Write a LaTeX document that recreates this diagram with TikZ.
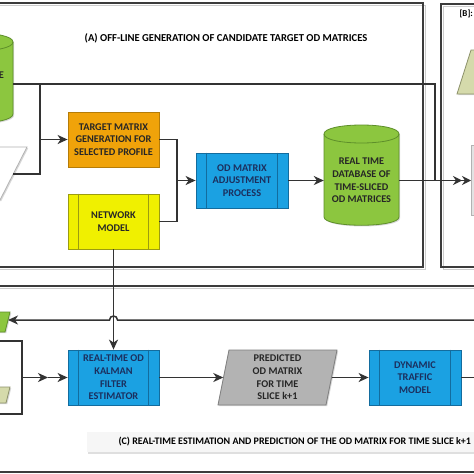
\documentclass[tikz,border=0pt]{standalone}
\usepackage{fontspec}
\setmainfont{Carlito}
\usetikzlibrary{arrows.meta,shadows}
\definecolor{lineC}{HTML}{333333}
\definecolor{frameC}{HTML}{3C3C3C}
\definecolor{orangeF}{HTML}{F0A30A}
\definecolor{orangeD}{HTML}{B57C08}
\definecolor{yellowF}{HTML}{F0F000}
\definecolor{yellowD}{HTML}{9C9C10}
\definecolor{blueF}{HTML}{1BA1E2}
\definecolor{blueD}{HTML}{136C9E}
\definecolor{navyT}{HTML}{1B2F5E}
\definecolor{greenF}{HTML}{8CC63F}
\definecolor{greenD}{HTML}{5E8F2A}
\definecolor{greyF}{HTML}{B3B3B3}
\definecolor{greyD}{HTML}{7F7F7F}
\definecolor{oliveF}{HTML}{D5DAAB}
\definecolor{oliveD}{HTML}{8C916A}
\newcommand\proclines[2]{\draw[#2,line width=0.8pt] ([xshift=11pt]#1.north west) -- ([xshift=11pt]#1.south west) ([xshift=-11pt]#1.north east) -- ([xshift=-11pt]#1.south east);}
\begin{document}
\begin{tikzpicture}[x=1pt,y=-1pt,
  conn/.style={draw=lineC, line width=1.5pt},
  arr/.style={conn, -{Stealth[length=10pt,width=9pt,inset=3pt]}},
  darr/.style={conn, -{Stealth[length=9pt,width=9pt,inset=3pt]Stealth[length=9pt,width=9pt,inset=3pt]}},
  frame/.style={draw=frameC, line width=1.9pt},
  fshadow/.style={draw=gray!40, line width=1.5pt},
  txt/.style={font=\bfseries\fontsize{10.3}{12.6}\selectfont, align=center},
  box/.style={txt, draw, line width=0.8pt, minimum width=91pt, minimum height=55pt, inner sep=1pt,
    drop shadow={shadow xshift=1.2pt, shadow yshift=-1.2pt, opacity=0.3}},
  shp/.style={line width=0.8pt, drop shadow={shadow xshift=1.2pt, shadow yshift=-1.2pt, opacity=0.3}},
  ]
\useasboundingbox (0,0) rectangle (474,474);
\fill[white] (0,0) rectangle (474,474);

% frames
\draw[fshadow] (-10,5.5) rectangle (425.5,269.5);
\draw[frame] (-10,3) rectangle (423,267);
\draw[fshadow] (443.5,6.5) rectangle (490,269.5);
\draw[frame] (441,4) rectangle (490,267);
\draw[fshadow] (-10,288.5) rectangle (490,474.5);
\draw[frame] (-10,286) rectangle (490,472);

% titles
\node[txt, font=\bfseries\fontsize{10.6}{12}\selectfont] (ta) at (226,38) {(A) OFF-LINE GENERATION OF CANDIDATE TARGET OD MATRICES};
\node[txt, anchor=west, font=\bfseries\fontsize{9}{10}\selectfont] (tb) at (456,14) {[B]:};
\fill[gray!7] (87,432) rectangle (490,452);
\draw[gray!25, line width=1.5pt] (88,453) -- (490,453);
\node[txt, anchor=west, font=\bfseries\fontsize{10}{12}\selectfont] (tc) at (115,441.5) {(C) REAL-TIME ESTIMATION AND PREDICTION OF THE OD MATRIX FOR TIME SLICE k+1};

% left cylinder (partly outside)
\filldraw[fill=greenF, draw=greenD, shp] (-62,42) -- (-62,114) .. controls (-62,126) and (13,126) .. (13,114) -- (13,42) .. controls (13,30) and (-62,30) .. (-62,42) -- cycle;
\draw[greenD, line width=0.8pt] (-62,42) .. controls (-62,54) and (13,54) .. (13,42);
\node[txt, anchor=east, text=black!85] (hct) at (7.5,75) {E};
\coordinate (hc) at (13,84);

% white parallelogram at left
\filldraw[fill=white, draw=gray!60, shp] (27,147) -- (0,200) -- (-80,200) -- (-53,147) -- cycle;
\coordinate (wp) at (13,174);

% boxes panel A
\node[box, fill=orangeF, draw=orangeD, text=black!85] (tgt) at (113.5,139.5) {TARGET MATRIX\\GENERATION FOR\\SELECTED PROFILE};
\node[box, fill=yellowF, draw=yellowD, text=black!85] (net) at (113.5,221.5) {NETWORK\\MODEL};
\proclines{net}{yellowD}
\node[box, fill=blueF, draw=blueD, text=navyT, minimum width=92pt] (odp) at (242,180.5) {OD MATRIX\\ADJUSTMENT\\PROCESS};
\proclines{odp}{blueD}

% real time db cylinder
\filldraw[fill=greenF, draw=greenD, shp] (324,134) -- (324,217) .. controls (324,228) and (399,228) .. (399,217) -- (399,134) .. controls (399,122) and (324,122) .. (324,134) -- cycle;
\draw[greenD, line width=0.8pt] (324,134) .. controls (324,146) and (399,146) .. (399,134);
\node[txt, text=black!85, minimum width=75pt, minimum height=80pt, inner sep=0pt] (db) at (361.5,180.5) {REAL TIME\\DATABASE OF\\TIME-SLICED\\OD MATRICES};

% panel B shapes
\filldraw[fill=oliveF, draw=oliveD, shp] (457,94) -- (471,50) -- (530,50) -- (516,94) -- cycle;
\filldraw[fill=gray!22, draw=gray!60, shp] (471,145) rectangle (530,215);
\coordinate (gb) at (471,180.5);

% connectors panel A
\draw[conn] (hc) -- (435,84) -- (435,180.5);
\draw[conn] (40,84) -- (40,174) -- (wp);
\draw[arr] (40,139.5) -- (tgt.west);
\draw[conn] (tgt.east) -- (177,139.5) -- (177,221.5) -- (net.east);
\draw[arr] (177,180.5) -- (odp.west);
\draw[arr] (odp.east) -- (db.west);
\draw[darr] (db.east) -- (gb);

% panel C shapes
\filldraw[fill=greenF, draw=greenD, shp] (10,312) -- (5,332) -- (-60,332) -- (-55,312) -- cycle;
\coordinate (gp) at (8,320);
\filldraw[fill=oliveF, draw=oliveD, shp] (10,387) -- (6,403) -- (-60,403) -- (-56,387) -- cycle;

\node[box, fill=blueF, draw=blueD, text=navyT] (kal) at (113.5,377.5) {REAL-TIME OD\\KALMAN\\FILTER\\ESTIMATOR};
\proclines{kal}{blueD}
\filldraw[fill=greyF, draw=greyD, shp] (229,350) -- (337,350) -- (326,405) -- (218,405) -- cycle;
\node[txt, text=black!85, minimum width=108pt, minimum height=55pt, inner sep=0pt] (pred) at (277.5,377.5) {PREDICTED\\OD MATRIX\\FOR TIME\\SLICE k+1};
\node[box, fill=blueF, draw=blueD, text=navyT, minimum width=92pt] (dyn) at (415,377.5) {DYNAMIC\\TRAFFIC\\MODEL};
\proclines{dyn}{blueD}

% connectors panel C
\draw[arr] (480,320) -- (117.5,320) .. controls (117.5,314.7) and (109.5,314.7) .. (109.5,320) -- (gp);
\draw[arr] (net.south) -- (kal.north);
\draw[conn] (-5,341) -- (22,341) -- (22,414) -- (-5,414);
\coordinate (kj) at (22,377.5);
\coordinate (km) at (48,377.5);
\draw[arr] (kj) -- (km);
\draw[arr] (km) -- (kal.west);
\draw[arr] (kal.east) -- (pred.west);
\draw[arr] (pred.east) -- (dyn.west);
\draw[conn] (dyn.east) -- (480,377.5);
\end{tikzpicture}
\end{document}
